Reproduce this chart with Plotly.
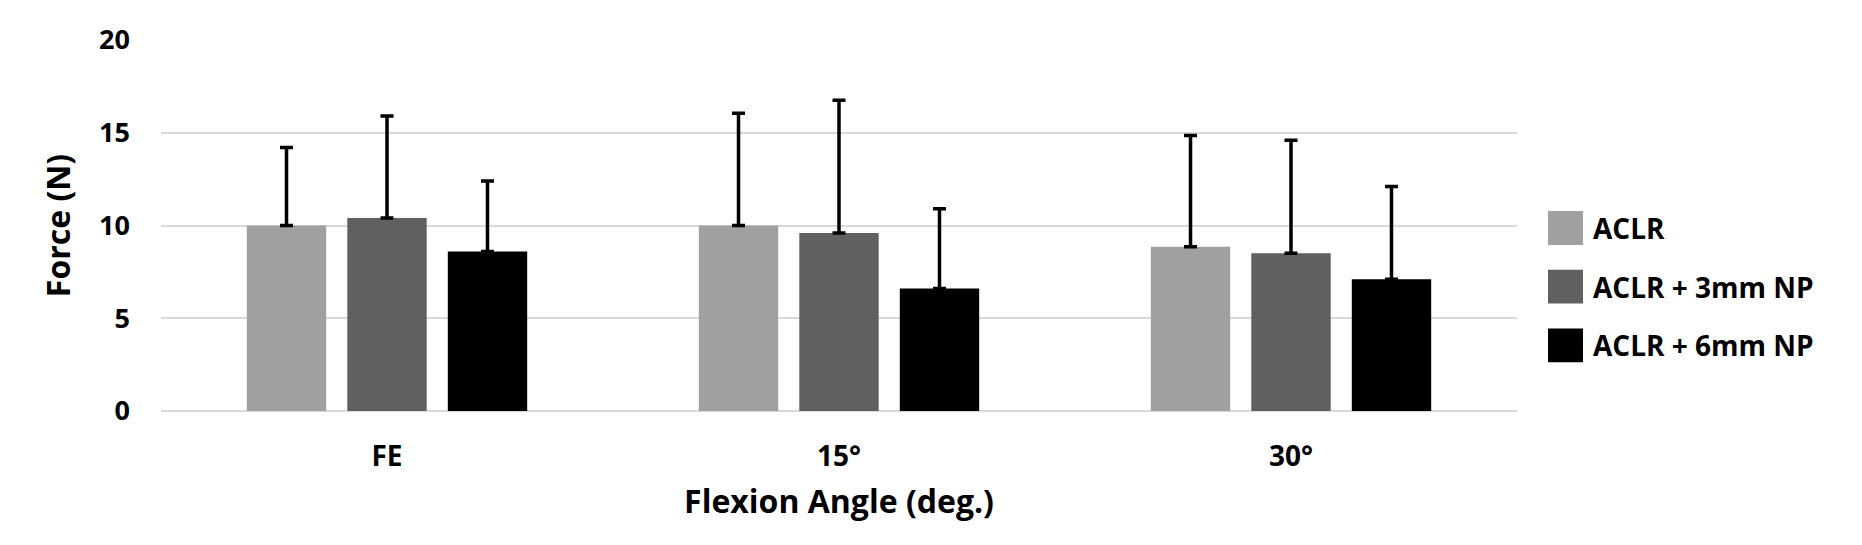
import plotly.graph_objects as go

# 데이터
angles = ["FE", "15°", "30°"]
series_names = ["ACLR", "ACLR + 3mm NP", "ACLR + 6mm NP"]
aclr = [10.0, 10.0, 8.85]
aclr_sd = [4.2, 6.05, 6.0]
np3 = [10.4, 9.6, 8.5]
np3_sd = [5.5, 7.15, 6.1]
np6 = [8.6, 6.6, 7.1]
np6_sd = [3.8, 4.3, 5.0]
colors = ["#A0A0A0", "#606060", "#000000"]

W, H = 1862, 545
ML, MR, MT, MB = 153, 353, 30, 142
FONT = "Open Sans"


def px_to_paper(px, py):
    # 픽셀 좌표 -> paper 좌표 (범례 위치용)
    return (px - ML) / (W - ML - MR), (H - MB - py) / (H - MT - MB)


fig = go.Figure()
for name, vals, sd, col in zip(series_names, [aclr, np3, np6], [aclr_sd, np3_sd, np6_sd], colors):
    fig.add_trace(go.Bar(
        x=angles, y=vals, name=name,
        marker=dict(color=col, line=dict(width=0)),
        error_y=dict(type="data", array=sd, arrayminus=[0] * len(sd), symmetric=False,
                     color="black", thickness=3.5, width=6.5),
        showlegend=False,
    ))

# 범례: 큰 사각형 + 텍스트
shapes = []
annotations = []
row_y = [219, 278, 337]
for name, col, ry in zip(series_names, colors, row_y):
    x0, y0 = px_to_paper(1540, ry + 17)
    x1, y1 = px_to_paper(1575, ry - 17)
    shapes.append(dict(type="rect", xref="paper", yref="paper", x0=x0, x1=x1, y0=y0, y1=y1,
                       fillcolor=col, line=dict(width=0)))
    tx, ty = px_to_paper(1583, ry)
    annotations.append(dict(text=name, xref="paper", yref="paper", x=tx, y=ty,
                            xanchor="left", yanchor="middle", showarrow=False,
                            font=dict(family=FONT, size=28, color="black", weight=700)))

fig.update_layout(
    width=W, height=H,
    margin=dict(l=ML, r=MR, t=MT, b=MB),
    paper_bgcolor="white", plot_bgcolor="white",
    barmode="group", bargap=0.333, bargroupgap=0.21,
    shapes=shapes, annotations=annotations,
    font=dict(family=FONT, color="black", weight=700),
)
fig.update_xaxes(
    showgrid=False, showline=False, ticks="",
    tickfont=dict(family=FONT, size=28, color="black", weight=700),
    ticklabelstandoff=26,
    title=dict(text="Flexion Angle (deg.)", standoff=17,
               font=dict(family=FONT, size=32, color="black", weight=700)),
)
fig.update_yaxes(
    range=[0, 20], dtick=5, showline=False, ticks="",
    showgrid=True, gridcolor="#D9D9D9", gridwidth=2,
    zeroline=True, zerolinecolor="#D9D9D9", zerolinewidth=2,
    tickfont=dict(family=FONT, size=27, color="black", weight=700),
    ticklabelstandoff=30,
    title=dict(text="Force (N)", standoff=18,
               font=dict(family=FONT, size=32, color="black", weight=700)),
)

fig.write_html("out.html")
